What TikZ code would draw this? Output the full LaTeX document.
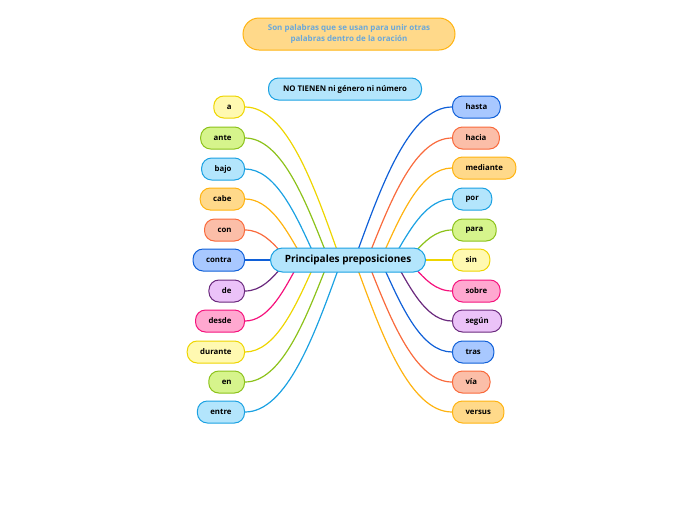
\documentclass[tikz,border=0pt]{standalone}
\usepackage{fontspec}
\setmainfont{Open Sans}
\usetikzlibrary{calc}
\pgfdeclarelayer{bg}
\pgfsetlayers{bg,main}
\definecolor{yF}{HTML}{FFF9B1}\definecolor{yB}{HTML}{EED500}
\definecolor{gF}{HTML}{D6F48C}\definecolor{gB}{HTML}{8CC21A}
\definecolor{lF}{HTML}{B3E5FC}\definecolor{lB}{HTML}{1BA1E2}
\definecolor{oF}{HTML}{FFD98A}\definecolor{oB}{HTML}{FFB310}
\definecolor{sF}{HTML}{FBBEA8}\definecolor{sB}{HTML}{F96A3C}
\definecolor{dF}{HTML}{A8C8FF}\definecolor{dB}{HTML}{1060D8}
\definecolor{pF}{HTML}{EBC2F8}\definecolor{pB}{HTML}{6B2A7E}
\definecolor{kF}{HTML}{FFA8D0}\definecolor{kB}{HTML}{F5127C}
\definecolor{topT}{HTML}{6AA8DA}
\tikzset{
  pill/.style={rounded corners=10pt, line width=1pt, minimum height=22pt, inner xsep=13pt, inner ysep=0pt, font=\fontsize{7.8}{9}\selectfont\bfseries, text=black},
  cY/.style={pill, fill=yF, draw=yB}, cG/.style={pill, fill=gF, draw=gB},
  cL/.style={pill, fill=lF, draw=lB}, cO/.style={pill, fill=oF, draw=oB},
  cS/.style={pill, fill=sF, draw=sB}, cD/.style={pill, fill=dF, draw=dB},
  cP/.style={pill, fill=pF, draw=pB}, cK/.style={pill, fill=kF, draw=kB},
  conn/.style={line width=1.2pt},
}
\begin{document}
\begin{tikzpicture}[x=1pt,y=-1pt]
\useasboundingbox (0,0) rectangle (697,520);
\node[pill, fill=oF, draw=oB, rounded corners=16pt, minimum width=212pt, minimum height=32pt, text=topT, align=center, font=\fontsize{8}{11}\selectfont\bfseries] (top) at (349,34) {Son palabras que se usan para unir otras\\palabras dentro de la oración};
\node[cL, minimum width=153pt] (nt) at (345,89) {NO TIENEN ni género ni número};
\node[cL, minimum width=155pt, minimum height=24pt, rounded corners=12pt, font=\fontsize{10}{12}\selectfont\bfseries] (main) at (348,260) {Principales preposiciones};
% left leaves
\node[cY, anchor=east] (a) at (245,107) {a};
\node[cG, anchor=east] (ante) at (245,138) {ante};
\node[cL, anchor=east] (bajo) at (245,169) {bajo};
\node[cO, anchor=east] (cabe) at (245,199) {cabe};
\node[cS, anchor=east] (con) at (245,230) {con};
\node[cD, anchor=east] (contra) at (245,260) {contra};
\node[cP, anchor=east] (de) at (245,291) {de};
\node[cK, anchor=east] (desde) at (245,321) {desde};
\node[cY, anchor=east] (durante) at (245,352) {durante};
\node[cG, anchor=east] (en) at (245,382) {en};
\node[cL, anchor=east] (entre) at (245,412) {entre};
% right leaves
\node[cD, anchor=west] (hasta) at (452,107) {hasta};
\node[cS, anchor=west] (hacia) at (452,138) {hacia};
\node[cO, anchor=west] (mediante) at (452,168) {mediante};
\node[cL, anchor=west] (por) at (452,199) {por};
\node[cG, anchor=west] (para) at (452,230) {para};
\node[cY, anchor=west] (sin) at (452,260) {sin};
\node[cK, anchor=west] (sobre) at (452,291) {sobre};
\node[cP, anchor=west] (segun) at (452,321) {según};
\node[cD, anchor=west] (tras) at (452,352) {tras};
\node[cS, anchor=west] (via) at (452,382) {vía};
\node[cO, anchor=west] (versus) at (452,412) {versus};
\begin{pgfonlayer}{bg}
\foreach \nm/\ex/\ey in {a/337/250, ante/325/250, bajo/312/250, cabe/298/250, con/281/252, de/281/268, desde/295/270, durante/312/270, en/325/270, entre/338/270,
  hasta/358/250, hacia/371/250, mediante/385/250, por/398/250, para/415/252, sobre/415/268, segun/400/270, tras/385/270, via/371/270, versus/358/270}{
  \coordinate (e-\nm) at (\ex,\ey);
}
\foreach \nm/\c in {a/yB, ante/gB, bajo/lB, cabe/oB, con/sB, de/pB, desde/kB, durante/yB, en/gB, entre/lB}{
  \draw[conn, draw=\c] let \p1=(\nm.east), \p2=(e-\nm) in
    (\nm.east) .. controls ({\x1+0.45*(\x2-\x1)},\y1) and ({\x2-0.25*(\x2-\x1)},{\y2-0.45*(\y2-\y1)}) .. (e-\nm);
}
\foreach \nm/\c in {hasta/dB, hacia/sB, mediante/oB, por/lB, para/gB, sobre/kB, segun/pB, tras/dB, via/sB, versus/oB}{
  \draw[conn, draw=\c] let \p1=(\nm.west), \p2=(e-\nm) in
    (\nm.west) .. controls ({\x1+0.45*(\x2-\x1)},\y1) and ({\x2-0.25*(\x2-\x1)},{\y2-0.45*(\y2-\y1)}) .. (e-\nm);
}
\draw[conn, draw=dB] (contra) -- (main);
\draw[conn, draw=yB] (sin) -- (main);
\end{pgfonlayer}
\end{tikzpicture}
\end{document}
